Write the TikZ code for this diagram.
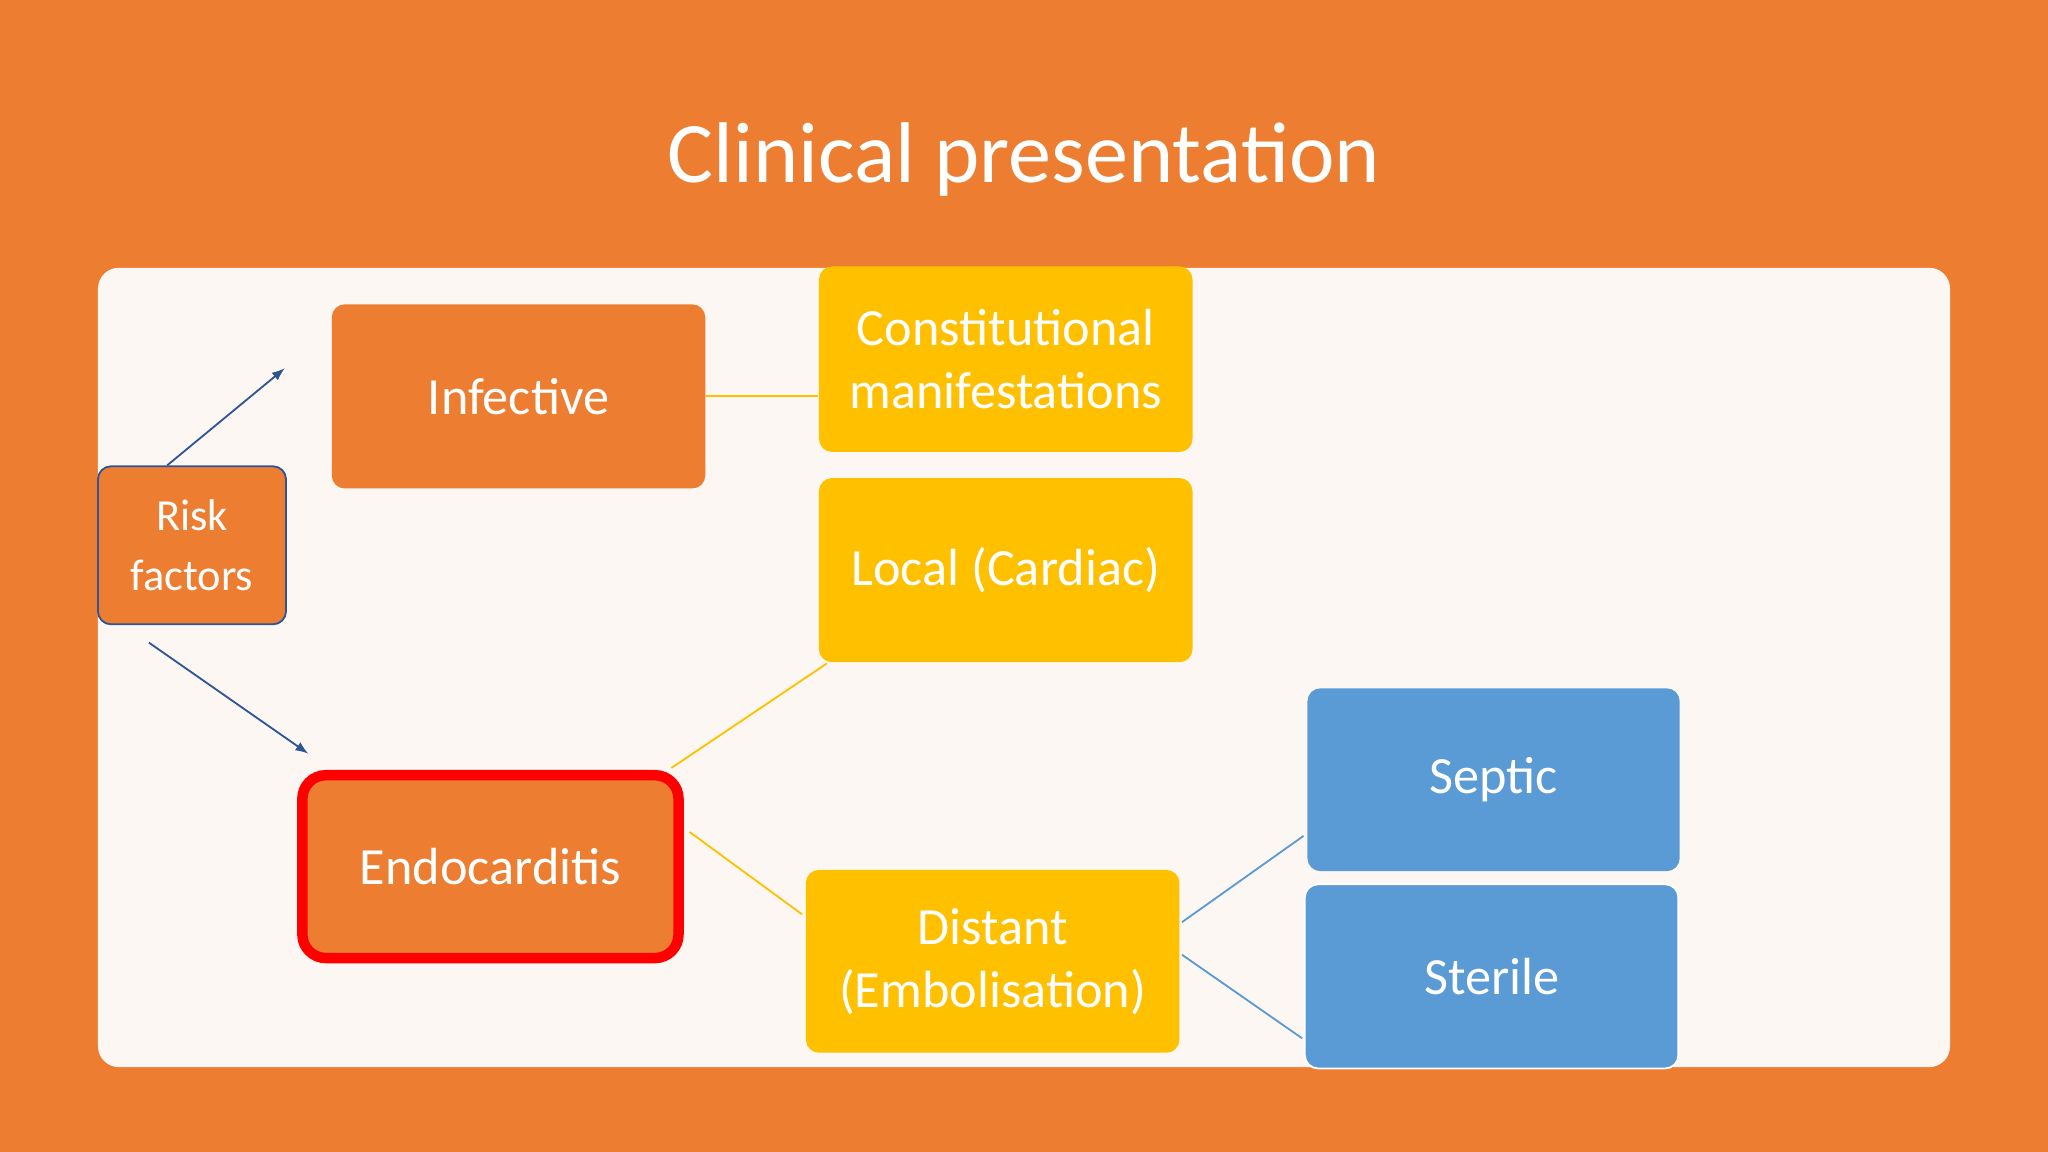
\documentclass[tikz,border=0pt]{standalone}
\usepackage{fontspec}
\setmainfont{Carlito}
\definecolor{bgor}{HTML}{ED7D31}
\definecolor{panel}{HTML}{FDF7F3}
\definecolor{yel}{HTML}{FFC000}
\definecolor{blu}{HTML}{5B9BD5}
\definecolor{dblu}{HTML}{2F5597}
\begin{document}
\begin{tikzpicture}[x=0.5pt,y=-0.5pt,
  box/.style={rounded corners=5pt,text=white,align=center,font=\fontsize{20}{24}\selectfont},
  ln/.style={line width=0.7pt}]
\fill[bgor] (0,0) rectangle (1568,882);
\useasboundingbox (0,0) rectangle (1568,882);
\node[text=white,font=\fontsize{33}{38}\selectfont] (title) at (784,122) {Clinical presentation};
\fill[panel,rounded corners=8pt] (75,205) rectangle (1493,817);
\node[box,fill=bgor,draw=dblu,line width=0.7pt,minimum width=72pt,minimum height=60.5pt,font=\fontsize{17}{23}\selectfont] (risk) at (147,417.5) {Risk\\factors};
\node[box,fill=bgor,minimum width=143pt,minimum height=70.5pt] (inf) at (397,303.5) {Infective};
\node[box,fill=yel,minimum width=143pt,minimum height=71pt,font=\fontsize{20}{24}\selectfont] (con) at (770,275) {Constitutional\\manifestations};
\node[box,fill=yel,minimum width=143pt,minimum height=70.5pt] (loc) at (770,436.5) {Local (Cardiac)};
\node[box,fill=bgor,draw=red,line width=4pt,rounded corners=9pt,minimum width=144pt,minimum height=70pt] (endo) at (375.5,663.5) {Endocarditis};
\node[box,fill=yel,minimum width=143pt,minimum height=70pt] (dist) at (760,736) {Distant\\(Embolisation)};
\node[box,fill=blu,minimum width=142.5pt,minimum height=70pt] (sep) at (1143.5,597) {Septic};
\node[box,fill=blu,draw=white,line width=0.7pt,minimum width=143pt,minimum height=70.5pt] (ster) at (1142,747.5) {Sterile};
\coordinate (a1) at (218,282);
\coordinate (a2s) at (114,492);
\coordinate (a2) at (236,577);
\draw[ln,dblu,-latex] (risk.north -| 128,0) -- (a1);
\draw[ln,dblu,-latex] (a2s) -- (a2);
\draw[ln,yel] (inf.east) -- (con.west |- inf.east);
\draw[ln,yel] (514,588) -- (633,508);
\draw[ln,yel] (528,637) -- (614,700);
\draw[ln,blu] (905,706) -- (998,640);
\draw[ln,blu] (905,731) -- (997,795);
\end{tikzpicture}
\end{document}
